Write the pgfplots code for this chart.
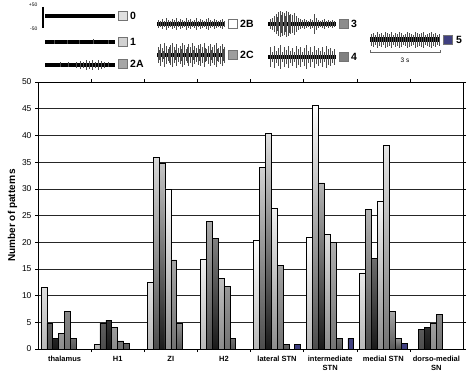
\documentclass[border=0pt]{standalone}
\usepackage{fontspec}
\setmainfont{Liberation Sans}
\usepackage{pgfplots}
\pgfplotsset{compat=1.18}
\definecolor{navyb}{RGB}{64,64,128}
\begin{document}
\begin{tikzpicture}
\path[use as bounding box] (0pt,0pt) rectangle (474pt,376pt);
\begin{axis}[at={(38pt,27pt)}, anchor=south west, scale only axis,
  width=425pt, height=267pt,
  xmin=-0.5, xmax=7.5, ymin=0, ymax=50,
  ytick={0,5,...,50},
  ymajorgrids, grid style={black!85, line width=0.6pt},
  axis line style={black, line width=0.6pt},
  xtick={0,...,7},
  xticklabels={thalamus,H1,ZI,H2,lateral STN,intermediate\\STN,medial STN,dorso-medial\\SN},
  xticklabel style={align=center, font=\bfseries\fontsize{7.5}{8.5}\selectfont, yshift=-1pt},
  major x tick style={draw=none},
  minor xtick={0.5,1.5,...,6.5},
  minor tick length=3pt, major tick length=3pt,
  tick align=outside, tick style={black, line width=0.5pt},
  /pgf/number format/assume math mode=true,
  yticklabel style={font=\fontsize{8.5}{9}\selectfont},
  ylabel={Number of patterns},
  ylabel style={font=\bfseries\fontsize{10}{12}\selectfont, yshift=-2pt},
  ybar=0pt, bar width=0.111,
  every axis plot/.append style={draw=black, line width=0.6pt},
]
% series 0
\addplot[ybar, bar shift=-0.3885, top color=white, bottom color=black!28] coordinates
 {(0,11.5)(1,0.9)(2,12.5)(3,16.8)(4,20.3)(5,20.9)(6,14.1)};
% series 1
\addplot[ybar, bar shift=-0.2775, top color=white, bottom color=black!70] coordinates
 {(0,4.9)(1,4.9)(2,35.9)(3,23.9)(4,34)(5,45.7)(6,26.2)(7,3.6)};
% series 2A
\addplot[ybar, bar shift=-0.1665, top color=black!12, bottom color=black!90] coordinates
 {(0,2)(1,5.4)(2,34.8)(3,20.7)(4,40.4)(5,31.1)(6,17)(7,4)};
% series 2B
\addplot[ybar, bar shift=-0.0555, top color=white, bottom color=black!45] coordinates
 {(0,2.9)(1,4.1)(2,30)(3,13.2)(4,26.3)(5,21.5)(6,27.6)(7,4.9)};
% series 2C
\addplot[ybar, bar shift=0.0555, top color=black!10, bottom color=black!55] coordinates
 {(0,7)(1,1.5)(2,16.7)(3,11.7)(4,15.7)(5,19.9)(6,38.1)(7,6.5)};
% series 3
\addplot[ybar, bar shift=0.1665, top color=black!35, bottom color=black!65] coordinates
 {(0,2)(1,1)(2,4.9)(3,2)(4,0.9)(5,2)(6,7)};
% series 4
\addplot[ybar, bar shift=0.2775, top color=black!40, bottom color=black!70] coordinates
 {(6,2)};
% series 5
\addplot[ybar, bar shift=0.3885, fill=navyb] coordinates
 {(4,0.9)(5,2)(6,1)};
\end{axis}

\begin{axis}[at={(0pt,0pt)}, anchor=south west, scale only axis,
  width=474pt, height=376pt, xmin=0, xmax=474, ymin=0, ymax=376,
  hide axis, clip=false]
% scale bar
\addplot[black, line width=1.5pt] coordinates {(43,369)(43,348)};
\node[anchor=east, font=\fontsize{5}{5}\selectfont] at (axis cs:41,371) {+50};
\node[anchor=east, font=\fontsize{5}{5}\selectfont] at (axis cs:41,347) {-50};
% time bar
\addplot[black!60, line width=0.5pt] coordinates {(370,326)(370,324)(440,324)(440,326)};
\node[font=\fontsize{6.5}{7}\selectfont] at (axis cs:405,316) {3 s};
% core lines
\addplot[black, line width=3.2pt] coordinates {(45,360)(115,360)};
\addplot[black, line width=3.2pt] coordinates {(45,334)(115,334)};
\addplot[black, line width=3.2pt] coordinates {(45,311)(115,311)};
\addplot[black, line width=3.2pt] coordinates {(157,352)(225,352)};
\addplot[black, line width=4pt] coordinates {(157,321)(225,321)};
\addplot[black, line width=3.2pt] coordinates {(268,352)(336,352)};
\addplot[black, line width=3.5pt] coordinates {(268,319)(336,319)};
\addplot[black, line width=5pt] coordinates {(370,336)(440,336)};
% spikes
\pgfplotsset{spk/.style={draw=none, mark=none, error bars/.cd, y dir=both, y explicit, error mark=none,
  error bar style={line width=0.45pt, black!70}}}
\addplot[spk] coordinates {(54,334)+-(0,2.2)(67,334)+-(0,2.4)(79,334)+-(0,2.2)(93,334)+-(0,2.5)(108,334)+-(0,2.2)};
\addplot[spk] coordinates {(60,311)+-(0,2.5)(68,311)+-(0,2.5)(76,311)+-(0,3)(80,311)+-(0,4)(83,311)+-(0,3)(86,311)+-(0,5)(89,311)+-(0,4)(92,311)+-(0,5)(95,311)+-(0,3)(98,311)+-(0,5)(101,311)+-(0,4)(104,311)+-(0,3)(108,311)+-(0,2.5)};
\addplot[spk] coordinates {(158,352)+-(0,4)(160,352)+-(0,3)(162,352)+-(0,5)(164,352)+-(0,3)(166,352)+-(0,6)(168,352)+-(0,4)(170,352)+-(0,3)(172,352)+-(0,5)(174,352)+-(0,4)(176,352)+-(0,6)(178,352)+-(0,3)(180,352)+-(0,5)(182,352)+-(0,4)(184,352)+-(0,3)(186,352)+-(0,6)(188,352)+-(0,4)(190,352)+-(0,5)(192,352)+-(0,3)(194,352)+-(0,4)(196,352)+-(0,6)(198,352)+-(0,3)(200,352)+-(0,5)(202,352)+-(0,4)(204,352)+-(0,3)(206,352)+-(0,5)(208,352)+-(0,6)(210,352)+-(0,4)(212,352)+-(0,3)(214,352)+-(0,5)(216,352)+-(0,4)(218,352)+-(0,3)(220,352)+-(0,4)(222,352)+-(0,5)(224,352)+-(0,3)};
\addplot[spk] coordinates {(158,321)+-(0,8)(159,321)+-(0,5)(160,321)+-(0,11)(162,321)+-(0,7)(163,321)+-(0,4)(164,321)+-(0,12)(166,321)+-(0,9)(168,321)+-(0,6)(169,321)+-(0,8)(170,321)+-(0,10)(172,321)+-(0,12)(174,321)+-(0,8)(175,321)+-(0,5)(176,321)+-(0,11)(178,321)+-(0,7)(180,321)+-(0,9)(181,321)+-(0,6)(182,321)+-(0,12)(184,321)+-(0,10)(186,321)+-(0,6)(187,321)+-(0,8)(188,321)+-(0,11)(190,321)+-(0,8)(192,321)+-(0,12)(193,321)+-(0,5)(194,321)+-(0,9)(196,321)+-(0,7)(198,321)+-(0,10)(199,321)+-(0,6)(200,321)+-(0,11)(202,321)+-(0,8)(204,321)+-(0,12)(205,321)+-(0,7)(206,321)+-(0,6)(208,321)+-(0,9)(210,321)+-(0,11)(211,321)+-(0,5)(212,321)+-(0,8)(214,321)+-(0,10)(216,321)+-(0,12)(217,321)+-(0,6)(218,321)+-(0,7)(220,321)+-(0,9)(222,321)+-(0,11)(223,321)+-(0,6)(224,321)+-(0,8)};
\addplot[spk] coordinates {(270,352)+-(0,5)(272,352)+-(0,6)(274,352)+-(0,8)(276,352)+-(0,10)(277,352)+-(0,7)(278,352)+-(0,12)(280,352)+-(0,13)(281,352)+-(0,9)(282,352)+-(0,12)(284,352)+-(0,11)(285,352)+-(0,8)(286,352)+-(0,13)(288,352)+-(0,12)(289,352)+-(0,9)(290,352)+-(0,10)(292,352)+-(0,9)(294,352)+-(0,11)(296,352)+-(0,8)(298,352)+-(0,6)(300,352)+-(0,5)(302,352)+-(0,4)(304,352)+-(0,5)(306,352)+-(0,4)(308,352)+-(0,3)(310,352)+-(0,5)(312,352)+-(0,4)(314,352)+-(0,10)(316,352)+-(0,6)(318,352)+-(0,4)(320,352)+-(0,3)(322,352)+-(0,4)(324,352)+-(0,5)(326,352)+-(0,3)(328,352)+-(0,4)(330,352)+-(0,3)(332,352)+-(0,4)(334,352)+-(0,3)};
\addplot[spk] coordinates {(270,319)+-(0,10)(272,319)+-(0,5)(274,319)+-(0,11)(276,319)+-(0,6)(278,319)+-(0,9)(280,319)+-(0,12)(282,319)+-(0,5)(284,319)+-(0,10)(286,319)+-(0,7)(288,319)+-(0,11)(290,319)+-(0,6)(292,319)+-(0,9)(294,319)+-(0,5)(296,319)+-(0,11)(298,319)+-(0,8)(300,319)+-(0,10)(302,319)+-(0,5)(304,319)+-(0,9)(306,319)+-(0,12)(308,319)+-(0,6)(310,319)+-(0,10)(312,319)+-(0,5)(314,319)+-(0,11)(316,319)+-(0,7)(318,319)+-(0,9)(320,319)+-(0,6)(322,319)+-(0,10)(324,319)+-(0,5)(326,319)+-(0,11)(328,319)+-(0,8)(330,319)+-(0,9)(332,319)+-(0,6)(334,319)+-(0,8)};
\addplot[spk] coordinates {(371,336)+-(0,6)(373,336)+-(0,7)(375,336)+-(0,5)(377,336)+-(0,8)(379,336)+-(0,6)(381,336)+-(0,7)(383,336)+-(0,5)(385,336)+-(0,8)(387,336)+-(0,7)(389,336)+-(0,6)(391,336)+-(0,8)(393,336)+-(0,5)(395,336)+-(0,7)(397,336)+-(0,6)(399,336)+-(0,8)(401,336)+-(0,7)(403,336)+-(0,5)(405,336)+-(0,6)(407,336)+-(0,8)(409,336)+-(0,7)(411,336)+-(0,6)(413,336)+-(0,5)(415,336)+-(0,8)(417,336)+-(0,7)(419,336)+-(0,6)(421,336)+-(0,7)(423,336)+-(0,8)(425,336)+-(0,5)(427,336)+-(0,6)(429,336)+-(0,7)(431,336)+-(0,8)(433,336)+-(0,6)(435,336)+-(0,7)(437,336)+-(0,5)(439,336)+-(0,6)};
% legend swatches
\pgfplotsset{sw/.style={only marks, mark=square*, mark size=4.3pt, mark options={draw=black!55, line width=0.5pt, fill=#1}}}
\addplot[sw=black!12] coordinates {(123,360)};
\addplot[sw=black!18] coordinates {(123,334)};
\addplot[sw=black!35] coordinates {(123,312)};
\addplot[sw=white] coordinates {(233,352)};
\addplot[sw=black!38] coordinates {(233,321)};
\addplot[sw=black!45] coordinates {(344,352)};
\addplot[sw=black!50] coordinates {(344,319)};
\addplot[sw=navyb] coordinates {(448,336)};
\tikzset{lab/.style={anchor=west, font=\bfseries\fontsize{10.5}{11}\selectfont, inner sep=0pt}}
\node[lab] at (axis cs:130,360) {0};
\node[lab] at (axis cs:130,334) {1};
\node[lab] at (axis cs:130,312) {2A};
\node[lab] at (axis cs:240,352) {2B};
\node[lab] at (axis cs:240,321) {2C};
\node[lab] at (axis cs:351,352) {3};
\node[lab] at (axis cs:351,319) {4};
\node[lab] at (axis cs:456,336) {5};
\end{axis}
\end{tikzpicture}
\end{document}
